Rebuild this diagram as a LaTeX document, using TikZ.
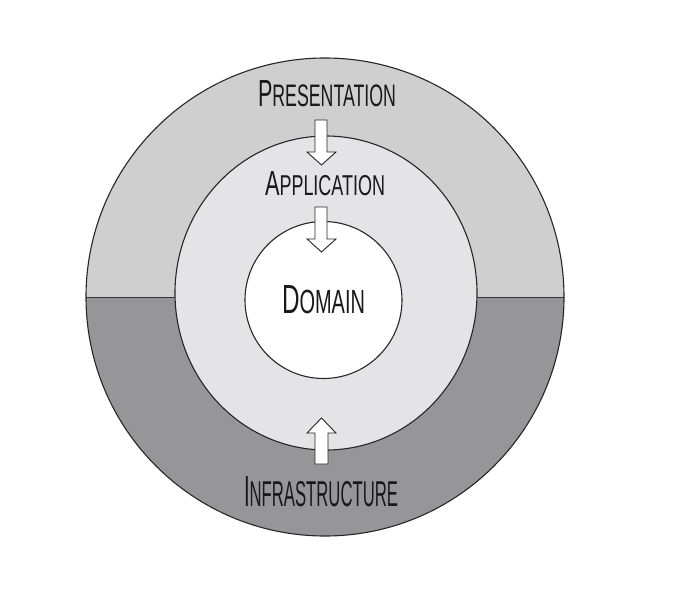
\documentclass[tikz,border=0pt]{standalone}
\usepackage{fontspec}
\setmainfont{Liberation Sans}
\usepackage{graphicx}
\definecolor{topgray}{RGB}{207,207,208}
\definecolor{botgray}{RGB}{150,150,152}
\definecolor{midgray}{RGB}{228,228,230}
\newcommand{\lyrlabel}[4]{\resizebox{#3pt}{#4pt}{{\fontsize{34}{34}\selectfont #1}{\fontsize{28}{28}\selectfont #2}}}
\tikzset{
  ring/.style={draw=black!85, line width=1.1pt},
  blockarrow/.style={draw=black!85, fill=white, line width=0.9pt, line join=miter},
  lbl/.style={inner sep=0pt, text=black!90}
}
\begin{document}
\begin{tikzpicture}[x=1pt,y=-1pt]
\useasboundingbox (0,0) rectangle (680,605);
% outer ring halves
\fill[botgray] (86,297) arc[start angle=180, end angle=0, radius=239] -- cycle;
\fill[topgray] (86,297) arc[start angle=180, end angle=360, radius=239] -- cycle;
\coordinate (cl) at (86,297);
\coordinate (cr) at (564,297);
\draw[black!80, line width=0.9pt] (cl) -- (cr);
\draw[ring] (325,297) circle[radius=239];
% middle ring
\draw[ring, fill=midgray] (326,293) ellipse[x radius=151, y radius=157];
% inner circle
\draw[ring, fill=white] (323.5,300) circle[radius=78.5];
% arrows
\draw[blockarrow] (315,120) -- (327,120) -- (327,152) -- (336,152) -- (321.5,165) -- (307,152) -- (315,152) -- cycle;
\draw[blockarrow] (315,207) -- (327,207) -- (327,239) -- (336,239) -- (321.5,252) -- (307,239) -- (315,239) -- cycle;
\draw[blockarrow] (315,464) -- (328,464) -- (328,433) -- (336,433) -- (321.5,418) -- (307,433) -- (315,433) -- cycle;
% labels
\node[lbl] (pres) at (327,94) {\lyrlabel{P}{RESENTATION}{138}{26}};
\node[lbl] (app) at (325,184) {\lyrlabel{A}{PPLICATION}{120}{24}};
\node[lbl] (dom) at (323.5,300) {\lyrlabel{D}{OMAIN}{83}{28}};
\node[lbl] (infra) at (321,492) {\lyrlabel{I}{NFRASTRUCTURE}{154}{30}};
\end{tikzpicture}
\end{document}
